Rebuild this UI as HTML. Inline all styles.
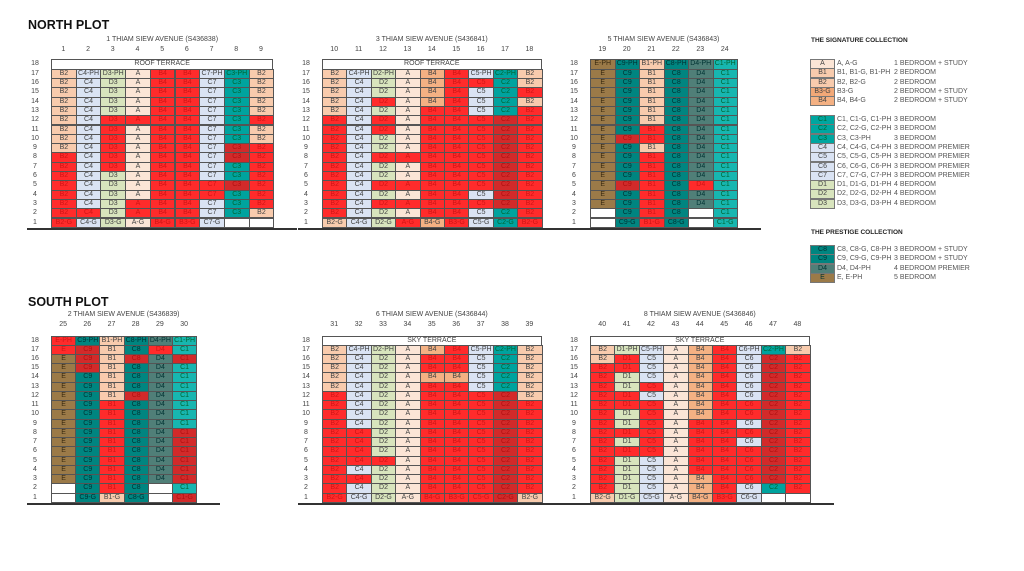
<!DOCTYPE html>
<html><head><meta charset="utf-8">
<style>
body{margin:0;width:1024px;height:571px;background:#fff;position:relative;overflow:hidden;font-family:"Liberation Sans",sans-serif;color:#444}
.t{position:absolute;white-space:nowrap}
.c{position:absolute;box-sizing:border-box;border:1px solid #555;font-size:7px;text-align:center;overflow:hidden}
.h{font-weight:bold;font-size:12.5px;color:#111}
</style></head><body>
<div class="t h" style="left:28px;top:18px">NORTH PLOT</div>
<div class="t h" style="left:28px;top:295px">SOUTH PLOT</div>
<div id="g"></div>
<script>
const COL={A:'#fbe5d6',B1:'#f8cbad',B2:'#f8cbad',B4:'#f4b183',B3:'#f4b183',C1:'#17b6b0',C2:'#00a39e',C3:'#00a39e',C4:'#dae3f3',C5:'#dae3f3',C6:'#dae3f3',C7:'#dae3f3',D1:'#d8e4bd',D2:'#d8e4bd',D3:'#d8e4bd',C8:'#008580',C9:'#008580',D4:'#507f78',E:'#9b7a48'};
const RED='#ff2b2b',DRED='#d22a2a';
let H='';
function block(o){
  const n=o.cols.length, w=n*o.cw;
  H+=`<div class="t" style="left:${o.x}px;width:${w}px;top:${o.ty-5}px;font-size:7px;text-align:center">${o.title}</div>`;
  o.cols.forEach((c,i)=>{H+=`<div class="t" style="left:${o.x+i*o.cw}px;width:${o.cw}px;top:${o.ty+5}px;font-size:7px;text-align:center">${c[0]}</div>`;});
  for(let f=18;f>=1;f--){const y=o.y+(18-f)*o.rh;H+=`<div class="t" style="left:${o.x-22}px;width:12px;top:${y+1}px;font-size:7px;text-align:center">${f}</div>`;}
  if(o.terrace){H+=`<div class="c" style="left:${o.x}px;top:${o.y}px;width:${w}px;height:${o.rh+1}px;background:#fff;line-height:${o.rh-1}px">${o.terrace}</div>`;}
  o.cols.forEach((c,i)=>{
    const code=c[1],s=c[2],ph=c[3],g1=c[4]||code;
    const top=o.terrace?17:18;
    for(let k=0;k<s.length;k++){
      const f=top-k, st=s[k];
      const x=o.x+i*o.cw, y=o.y+(18-f)*o.rh;
      let label=code; if(f===top&&ph)label=code+'-PH'; if(f===1)label=g1+'-G';
      let bg=COL[code]||'#ddd', tc=(['C1','C2','C3','C8','C9','D4','E'].includes(code))?'#063':'#444';
      if(code==='C8'||code==='C9'||code==='D4')tc='#033';
      if(code==='E')tc='#3a2a10';
      if(st==='s'){bg=RED;tc='#d01515';} if(st==='d'){bg=DRED;tc='#b01010';}
      if(st==='x'){bg='#fff';label='';}
      H+=`<div class="c" style="left:${x}px;top:${y}px;width:${o.cw+1}px;height:${o.rh+1}px;background:${bg};color:${tc};line-height:${o.rh-1}px">${label}</div>`;
    }
  });
  H+=`<div class="t" style="left:${o.x-24}px;width:${w+48}px;top:${o.y+18*o.rh+1}px;height:2px;background:#333"></div>`;
}
block({x:51,cw:24.7,y:59.4,rh:9.3,ty:41,title:'1 THIAM SIEW AVENUE (S436838)',terrace:'ROOF TERRACE',cols:[
[1,'B2','aaaaaaaaassssssss'],[2,'C4','aaaaaaaaaaaaaaasa',1],[3,'D3','aaaaassssssaaaaaa',1],[4,'A','aaaaasaaaaaaaassa'],
[5,'B4','sssssssssssssssss'],[6,'B4','sssssssssssssssss',0,'B3'],[7,'C7','aaaaaaaaaaaassaaa',1],[8,'C3','aaaaaaaaddaadaaax',1],[9,'B2','aaaaasaasssssssax']]});
block({x:322,cw:24.4,y:59.4,rh:9.3,ty:41,title:'3 THIAM SIEW AVENUE (S436841)',terrace:'ROOF TERRACE',cols:[
[10,'B2','aaaaasssssssssssa'],[11,'C4','aaaaaaaaaaaaaaaaa',1],[12,'D2','aaasassaasaasasaa',1],[13,'A','aaaaaaaaasaasasas'],
[14,'B4','aaaassssssssssssa'],[15,'B4','sssssssssssssssss',0,'B3'],[16,'C5','asaaassssssssasaa',1],[17,'C2','aaaaaddddddddddaa',1],[18,'B2','aasasssssssssssss']]});
block({x:590,cw:24.5,y:59.4,rh:9.3,ty:41,title:'5 THIAM SIEW AVENUE (S436843)',cols:[
[19,'E','aaaaaaaaaaaaaaaaxx',1],[20,'C9','aaaaaaaadaaaadaaaa',1],[21,'B1','aaaaaaassassssssss',1],[22,'C8','aaaaaaaaaaaaaaaaaa',1],
[23,'D4','aaaaaaaaaaaaasaaxx',1],[24,'C1','aaaaaaaaaaaaaaaaaa',1]]});
block({x:51,cw:24.2,y:335.5,rh:9.24,ty:316,title:'2 THIAM SIEW AVENUE (S436839)',cols:[
[25,'E','ssaaaaaaaaaaaaaaxx',1],[26,'C9','adddaaaaaaaaaaaaaa',1],[27,'B1','aaaaaaassssssssssa',1],[28,'C8','aadaaadaaaaaaaaaaa',1],
[29,'D4','asaaaaaaaaaaaaaaxx',1],[30,'C1','aadaaaaaaaddddddad',1]]});
block({x:322,cw:24.4,y:335.5,rh:9.24,ty:316,title:'6 THIAM SIEW AVENUE (S436844)',terrace:'SKY TERRACE',cols:[
[31,'B2','aaaaassssssssssss'],[32,'C4','aaaaaaaaassssasaa',1],[33,'D2','aaaaaaaaaaaasaaaa',1],[34,'A','aaaaaaaaaaaaaaaaa'],
[35,'B4','assasssssssssssss'],[36,'B4','sssasssssssssssss',0,'B3'],[37,'C5','aaaaassssssssssss',1],[38,'C2','aaaaadddddddddddd',1],[39,'B2','aaaaaassssssssssa']]});
block({x:590,cw:24.4,y:335.5,rh:9.24,ty:316,title:'8 THIAM SIEW AVENUE (S436846)',terrace:'SKY TERRACE',cols:[
[40,'B2','aassssssssssssssa'],[41,'D1','assaassaasasaaaaa',1],[42,'C5','aaaasassssssaaaaa',1],[43,'A','aaaaaaaaaaaaaaaaa'],
[44,'B4','aaaaaaaassssssaaa'],[45,'B4','sssssssssssssssss',0,'B3'],[46,'C6','aaaaaassasassssaa',1],[47,'C2','addddddddddddddax',1],[48,'B2','asssssssssssssssx']]});
function leg(y,code,bg,tc,a,b){H+=`<div class="c" style="left:810px;top:${y}px;width:25px;height:10px;background:${bg};color:${tc};line-height:8px;border-color:#777">${code}</div><div class="t" style="left:837px;top:${y+1}px;font-size:7px;color:#555">${a}</div><div class="t" style="left:894px;top:${y+1}px;font-size:7px;color:#555">${b}</div>`;}
H+=`<div class="t" style="left:811px;top:37px;font-size:6.5px;font-weight:bold;color:#222">THE SIGNATURE COLLECTION</div>`;
H+=`<div class="t" style="left:811px;top:229px;font-size:6.5px;font-weight:bold;color:#222">THE PRESTIGE COLLECTION</div>`;
const L1=[['A',COL.A,'A, A-G','1 BEDROOM + STUDY'],['B1',COL.B1,'B1, B1-G, B1-PH','2 BEDROOM'],['B2',COL.B2,'B2, B2-G','2 BEDROOM'],['B3-G','#f2a877','B3-G','2 BEDROOM + STUDY'],['B4','#f4b183','B4, B4-G','2 BEDROOM + STUDY']];
L1.forEach((r,i)=>leg(59+i*9.3,r[0],r[1],'#444',r[2],r[3]));
const L2=[['C1','C1, C1-G, C1-PH','3 BEDROOM'],['C2','C2, C2-G, C2-PH','3 BEDROOM'],['C3','C3, C3-PH','3 BEDROOM'],['C4','C4, C4-G, C4-PH','3 BEDROOM PREMIER'],['C5','C5, C5-G, C5-PH','3 BEDROOM PREMIER'],['C6','C6, C6-G, C6-PH','3 BEDROOM PREMIER'],['C7','C7, C7-G, C7-PH','3 BEDROOM PREMIER'],['D1','D1, D1-G, D1-PH','4 BEDROOM'],['D2','D2, D2-G, D2-PH','4 BEDROOM'],['D3','D3, D3-G, D3-PH','4 BEDROOM']];
L2.forEach((r,i)=>leg(115+i*9.3,r[0],r[0][0]=='C'&&r[0]<'C4'?'#00a6a0':COL[r[0]],r[0]<'C4'?'#063':'#444',r[1],r[2]));
const L3=[['C8','C8, C8-G, C8-PH','3 BEDROOM + STUDY'],['C9','C9, C9-G, C9-PH','3 BEDROOM + STUDY'],['D4','D4, D4-PH','4 BEDROOM PREMIER'],['E','E, E-PH','5 BEDROOM']];
L3.forEach((r,i)=>leg(245+i*9.3,r[0],COL[r[0]],'#033',r[1],r[2]));
document.getElementById('g').innerHTML=H;
</script>
</body></html>
